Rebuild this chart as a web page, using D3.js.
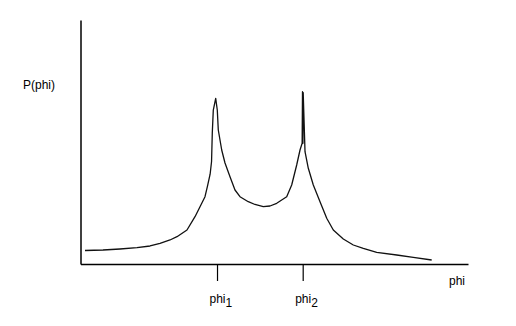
<!DOCTYPE html>
<html>
<head>
<meta charset="utf-8">
<script src="https://cdn.jsdelivr.net/npm/d3@7"></script>
<style>
  html, body { margin: 0; padding: 0; background: #fff; }
  svg { display: block; }
  text { font-family: "Liberation Sans", Arial, sans-serif; font-size: 12px; fill: #000; }
</style>
</head>
<body>
<svg id="chart" width="516" height="326"></svg>
<script>
// Curve samples (arbitrary units: phi 0..100, P 0..100)
const phiValues = [1.16, 5.81, 10.19, 14.58, 17.94, 20.52, 23.10, 24.90, 27.48, 29.55,
  30.84, 32.13, 32.77, 33.45, 33.82, 34.01, 34.27, 34.89, 35.30, 35.56, 36.44,
  37.29, 38.58, 39.87, 41.16, 43.30, 45.03, 47.17, 48.90, 50.63, 53.21,
  54.50, 55.79, 56.65, 57.20, 57.29, 57.40, 57.47, 57.94, 58.79, 60.08,
  61.81, 63.54, 65.24, 67.82, 70.40, 72.98, 76.44, 81.60, 85.88, 90.63];
const pValues = [5.53, 5.74, 6.15, 6.68, 7.38, 8.48, 9.84, 11.19, 13.93, 19.39,
  23.48, 27.58, 31.9, 36.8, 42.0, 53.69, 63.11, 67.91, 63.11, 54.92, 46.72,
  41.39, 35.78, 30.33, 27.58, 25.53, 24.39, 23.48, 23.77, 24.88, 27.58,
  32.38, 40.57, 46.72, 49.47, 70.61, 49.47, 70.2, 46.02, 39.22, 32.38,
  25.53, 18.73, 13.93, 10.25, 7.79, 6.43, 4.80, 3.69, 2.75, 1.64];
const tickValues = [35.23, 57.34];
const tickLabels = [["phi", "1"], ["phi", "2"]];
const yLabel = "P(phi)";
const xLabel = "phi";

const svg = d3.select("#chart");
const x = d3.scaleLinear().domain([0, 100]).range([80.5, 468]);
const y = d3.scaleLinear().domain([0, 100]).range([264, 20]);

// y axis
const yAxis = svg.append("g").attr("transform", `translate(${x(0)},0)`)
  .call(d3.axisLeft(y).tickValues([]).tickSizeOuter(0));
yAxis.select(".domain").attr("stroke", "#000").attr("stroke-width", 1.5);

// x axis
const xAxis = svg.append("g").attr("transform", `translate(0,${y(0)})`)
  .call(d3.axisBottom(x).tickValues(tickValues).tickSize(17).tickSizeOuter(0).tickFormat(""));
xAxis.select(".domain").attr("stroke", "#000").attr("stroke-width", 1.5);
xAxis.selectAll(".tick line").attr("stroke", "#000").attr("stroke-width", 1.2);
xAxis.selectAll(".tick text").remove();
xAxis.selectAll(".tick").each(function(d, i) {
  const t = d3.select(this).append("text")
    .attr("x", -8).attr("y", 39).attr("text-anchor", "start")
    .style("font-family", '"Liberation Sans", Arial, sans-serif')
    .style("font-size", "12px").attr("fill", "#000");
  t.append("tspan").text(tickLabels[i][0]);
  t.append("tspan").attr("dy", 4).text(tickLabels[i][1]);
});

// labels
svg.append("text").attr("x", 23).attr("y", 89).text(yLabel);
svg.append("text").attr("x", 449).attr("y", 285).text(xLabel);

// curve
const pts = phiValues.map((p, i) => [p, pValues[i]]);
const line = d3.line().x(d => x(d[0])).y(d => y(d[1]));
svg.append("path").datum(pts)
  .attr("d", line)
  .attr("fill", "none")
  .attr("stroke", "#111")
  .attr("stroke-width", 1.3)
  .attr("stroke-linejoin", "round");
</script>
</body>
</html>
